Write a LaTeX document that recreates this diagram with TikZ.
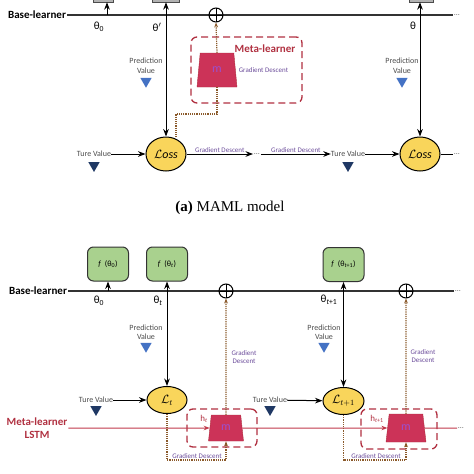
\documentclass[tikz,border=0pt]{standalone}
\usepackage{fontspec}
\setmainfont{Carlito}
\newfontfamily\capfont{Liberation Serif}
\usetikzlibrary{arrows.meta,positioning,shapes.geometric,calc}
\definecolor{metared}{HTML}{B03040}
\definecolor{lstmred}{HTML}{C0394B}
\definecolor{mfill}{HTML}{CC3358}
\definecolor{mtext}{HTML}{9A50D0}
\definecolor{gdpurple}{HTML}{6B4C9A}
\definecolor{gdbrown}{HTML}{8B5A2B}
\definecolor{lossyellow}{HTML}{F9D55B}
\definecolor{fgreen}{HTML}{A9D18E}
\definecolor{triblue}{HTML}{4472C4}
\definecolor{trinavy}{HTML}{1F3864}

\begin{document}
\begin{tikzpicture}[x=1pt, y=-1pt, >=Stealth, node distance=3pt,
    lbl/.style={font=\bfseries\fontsize{11}{12}\selectfont, inner sep=1pt},
    th/.style={font=\fontsize{11}{12}\selectfont, inner sep=0pt},
    smalltxt/.style={font=\fontsize{8}{9.5}\selectfont, text=black!70, align=center, inner sep=0pt},
    gdtxt/.style={font=\fontsize{7}{8.5}\selectfont, text=gdpurple, align=center, inner sep=1pt},
    dots/.style={font=\fontsize{8}{9}\selectfont, text=black!60, inner sep=1pt},
    bline/.style={draw=black!80, line width=1.2pt},
    arr/.style={->, line width=1pt},
    loss/.style={ellipse, draw=black, line width=1pt, fill=lossyellow, minimum width=40pt, inner sep=0pt,
      font=\fontsize{12}{14}\selectfont},
    mbox/.style={trapezium, trapezium left angle=83, trapezium right angle=83, trapezium stretches=true,
      draw=metared, fill=mfill, text=mtext, font=\fontsize{12}{13}\selectfont},
    fnode/.style={draw=black!80, line width=1pt, fill=fgreen, rounded corners=6pt,
      minimum width=41pt, minimum height=34pt, font=\fontsize{8}{9}\selectfont},
    gbox/.style={draw=black!70, fill=gray!60, minimum height=12pt, inner sep=0pt},
    dashbox/.style={draw=metared, line width=1.3pt, dash pattern=on 7pt off 4pt, rounded corners=6pt, inner sep=0pt},
    plus/.style={circle, draw=black, line width=1pt, minimum size=14pt, inner sep=0pt,
      path picture={\draw[line width=0.8pt] (path picture bounding box.north) -- (path picture bounding box.south)
        (path picture bounding box.west) -- (path picture bounding box.east);}},
    downtri/.style={regular polygon, regular polygon sides=3, shape border rotate=180, minimum size=13pt, inner sep=0pt},
    gdline/.style={densely dotted, line width=1.2pt, draw=gdbrown},
    redline/.style={draw=lstmred, line width=1pt, -{Stealth[length=6pt]}}]
  \useasboundingbox (0,0) rectangle (474,474);
  \clip (0,0) rectangle (474,474);

  % (a) MAML
  \node[lbl] (bl1) at (37,15) {Base-learner};
  \node[dots] (e1) at (457,15) {\ldots};
  \draw[bline] (bl1) -- (e1);
  \node[gbox, minimum width=20pt] (g0) at (103,-4) {};
  \node[gbox, minimum width=27pt] (g1) at (166,-4) {};
  \node[gbox, minimum width=24pt] (g2) at (421,-4) {};
  \coordinate (t0) at (107,15);
  \draw[arr] (t0) -- (t0 |- g0.south);
  \node[th] (th0) at (99,27) {θ\textsubscript{0}};
  \node[th] (th1) at (157,27) {θ$^{\prime}$};
  \node[th] (th2) at (413,26) {θ};

  \node[loss, minimum height=34pt] (L1) at (166,154) {$\mathcal{L}\mathit{oss}$};
  \node[loss, minimum height=34pt] (L2) at (420,154) {$\mathcal{L}\mathit{oss}$};
  \draw[<->, line width=1pt] (L1.north) -- (L1.north |- g1.south);
  \draw[<->, line width=1pt] (L2.north) -- (L2.north |- g2.south);

  \node[plus] (o1) at (216,15) {};
  \node[dashbox, minimum width=111pt, minimum height=66pt] (mb1) at (246.5,70) {};
  \node[font=\bfseries\fontsize{11}{12}\selectfont, text=metared, inner sep=0pt] (mt1) at (265,49) {Meta-learner};
  \node[mbox, minimum width=40pt, minimum height=34pt] (m1) at (217,70) {m};
  \node[gdtxt, right=2pt of m1] (gd1) {Gradient Descent};
  \draw[gdline, -{Stealth[length=5pt]}] (m1.north) -- (o1.south);
  \coordinate (k1) at (176,114);
  \draw[gdline] (m1.south) |- (k1) -- (k1 |- L1.north);

  \node[smalltxt] (pv1) at (146,66) {Prediction\\Value};
  \node[downtri, fill=triblue, below=4pt of pv1] (pt1) {};
  \node[smalltxt] (pv2) at (402,66) {Prediction\\Value};
  \node[downtri, fill=triblue, below=4pt of pv2] (pt2) {};

  \node[smalltxt] (tv1) at (94,154) {Ture Value};
  \node[downtri, fill=trinavy, below=5pt of tv1] (tt1) {};
  \draw[arr] (tv1) -- (L1);
  \node[dots] (e2) at (257,154) {\ldots};
  \draw[arr] (L1.east) -- (e2.west) node[gdtxt, midway, above] {Gradient Descent};
  \node[smalltxt] (tv2) at (348,154) {Ture Value};
  \node[downtri, fill=trinavy, below=5pt of tv2] (tt2) {};
  \draw[arr] (e2.east) -- (tv2.west) node[gdtxt, midway, above] {Gradient Descent};
  \draw[arr] (tv2) -- (L2);
  \node[dots] (e3) at (457,154) {\ldots};
  \draw[line width=1pt] (L2) -- (e3);

  \node[font=\capfont\fontsize{15}{17}\selectfont] (capA) at (230,208) {\textbf{(a)} MAML model};

  % (b) LSTM meta-learner
  \node[fnode] (f0) at (108,264) {\textit{f}\ \ (θ\textsubscript{0})};
  \node[fnode] (ft) at (167,264) {\textit{f}\ \ (θ\textsubscript{\textit{t}})};
  \node[fnode] (ft1) at (343.5,264.5) {\textit{f}\ \ (θ\textsubscript{\textit{t}+1})};
  \node[lbl] (bl2) at (38,291) {Base-learner};
  \node[dots] (e4) at (458,291) {\ldots};
  \draw[bline] (bl2) -- (e4);
  \coordinate (t1) at (108,291);
  \draw[arr] (t1) -- (f0.south);
  \node[th] (th3) at (99,301) {θ\textsubscript{0}};
  \node[th] (th4) at (158,301) {θ\textsubscript{\textit{t}}};
  \node[th] (th5) at (329,300) {θ\textsubscript{\textit{t}+1}};
  \node[plus] (o2) at (226,291) {};
  \node[plus] (o3) at (406,291) {};

  \node[smalltxt] (pv3) at (146,332) {Prediction\\Value};
  \node[downtri, fill=triblue, below=3pt of pv3] (pt3) {};
  \node[smalltxt] (pv4) at (324,332) {Prediction\\Value};
  \node[downtri, fill=triblue, below=3pt of pv4] (pt4) {};

  \node[loss, minimum height=27pt] (Lt) at (167,400) {$\mathcal{L}_t$};
  \node[loss, minimum height=27pt, minimum width=41pt] (Lt1) at (343.5,401) {$\mathcal{L}_{t+1}$};
  \draw[<->, line width=1pt] (Lt.north) -- (ft.south);
  \draw[<->, line width=1pt] (Lt1.north) -- (ft1.south);

  \node[smalltxt] (tv3) at (96,400) {Ture Value};
  \node[downtri, fill=trinavy, below=3pt of tv3] (tt3) {};
  \draw[arr] (tv3) -- (Lt);
  \node[smalltxt] (tv4) at (270,400) {Ture Value};
  \node[downtri, fill=trinavy, below=3pt of tv4] (tt4) {};
  \draw[arr] (tv4) -- (Lt1);

  \node[font=\bfseries\fontsize{11}{13}\selectfont, text=metared, align=center, inner sep=1pt] (lstm) at (37,428) {Meta-learner\\LSTM};
  \node[dashbox, minimum width=70pt, minimum height=38pt] (mb2) at (222,428) {};
  \node[dashbox, minimum width=76pt, minimum height=40pt] (mb3) at (399,429) {};
  \node[mbox, minimum width=35pt, minimum height=26pt] (m2) at (226,428) {m};
  \node[mbox, minimum width=40pt, minimum height=28pt] (m3) at (406,428) {m};
  \node[font=\fontsize{9}{10}\selectfont, text=metared, inner sep=0pt] (h1) at (204,419) {h\textsubscript{\textit{t}}};
  \node[font=\fontsize{9}{10}\selectfont, text=metared, inner sep=0pt] (h2) at (377,419) {h\textsubscript{\textit{t}+1}};
  \node[dots] (e5) at (461,428) {\ldots};
  \draw[redline] (lstm.east) -- (m2.west);
  \draw[redline] (m2.east) -- (m3.west);
  \draw[draw=lstmred, line width=1pt] (m3.east) -- (e5);

  \coordinate (k2) at (167,460);
  \coordinate (k3) at (343.5,460);
  \draw[gdline, -{Stealth[length=5pt]}] (Lt.south) -- (k2) -| (m2.south);
  \draw[gdline, -{Stealth[length=5pt]}] (Lt1.south) -- (k3) -| (m3.south);
  \node[gdtxt, anchor=south] (gd2) at (197,460) {Gradient Descent};
  \node[gdtxt, anchor=south] (gd3) at (376,460) {Gradient Descent};
  \draw[gdline, -{Stealth[length=5pt]}] (m2.north) -- (o2.south);
  \draw[gdline, -{Stealth[length=5pt]}] (m3.north) -- (o3.south);
  \node[gdtxt] (gd4) at (244,357) {Gradient\\Descent};
  \node[gdtxt] (gd5) at (423,356) {Gradient\\Descent};
\end{tikzpicture}
\end{document}
